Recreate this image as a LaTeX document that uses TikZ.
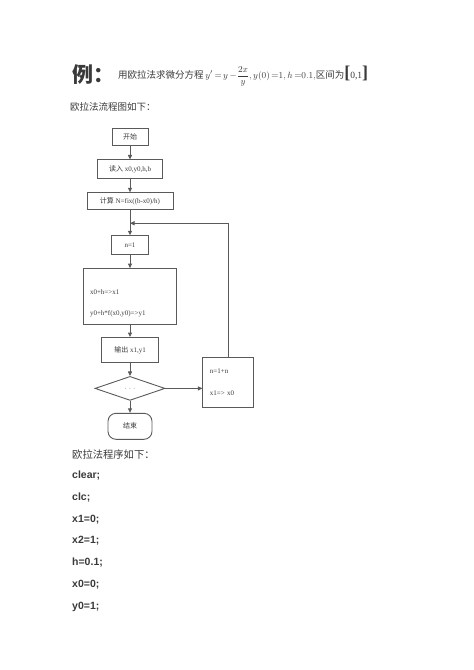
\documentclass[tikz,border=0pt]{standalone}
\usepackage{amsmath}
\usepackage{fontspec}
\setmainfont{Liberation Serif}
\newfontfamily\cjk{Noto Sans CJK SC}
\newfontfamily\codefont{Liberation Sans}
\usetikzlibrary{positioning, arrows.meta, shapes.geometric}
\definecolor{linegray}{HTML}{5A5A5A}
\definecolor{textgray}{HTML}{3A3A3A}

\begin{document}
\begin{tikzpicture}[
    x=1pt, y=-1pt,
    node distance=13pt,
    box/.style={rectangle, draw=linegray, line width=0.9pt, align=center,
                inner sep=0pt, text=textgray, font=\fontsize{7}{8}\selectfont},
    cond/.style={diamond, draw=linegray, line width=0.9pt, inner sep=0pt,
                 aspect=2.9, text=textgray, font=\fontsize{7}{8}\selectfont},
    term/.style={box, rounded corners=8pt},
    arr/.style={-{Triangle[length=4.5pt,width=4pt]}, line width=0.9pt, draw=linegray},
    page/.style={anchor=west, inner sep=0pt, text=textgray}
]
\useasboundingbox (0,0) rectangle (474,670);

% heading and problem
\node[page, font=\fontsize{21}{21}\selectfont\cjk\bfseries] (ex) at (72,75) {例：};
\node[page, font=\fontsize{9.5}{10}\selectfont] (task) at (118,76)
    {{\cjk 用欧拉法求微分方程}\,$y'\,{=}\,y\,{-}\dfrac{2x}{y},y(0)\,{=}1,h\,{=}0.1,${\cjk 区间为}{\fontsize{18}{18}\selectfont\bfseries[}0,1{\fontsize{18}{18}\selectfont\bfseries]}};
\node[page, font=\fontsize{9.5}{10}\selectfont\cjk] (chart) at (70,107) {欧拉法流程图如下：};

% flow chart
\node[box, minimum width=36pt, minimum height=17pt] (start) at (130,136.5) {\cjk 开始};
\node[box, minimum width=65pt, minimum height=19pt, below=14pt of start] (read) {{\cjk 读入} x0,y0,h,b};
\node[box, minimum width=86pt, minimum height=17pt, below=of read] (calc) {{\cjk 计算} N=fix((b-x0)/h)};
\node[box, minimum width=37pt, minimum height=19pt, below=25pt of calc] (init) {n=1};
\node[box, minimum width=93pt, minimum height=56pt, below=of init, align=left, text width=80pt] (step)
    {\mbox{}\\[10pt]x0+h=>x1\\[13pt]y0+h*f(x0,y0)=>y1};
\node[box, minimum width=57pt, minimum height=25pt, below=12pt of step] (out) {{\cjk 输出} x1,y1};
\node[cond, minimum width=70pt, minimum height=24pt, below=of out] (dec) {$\cdot\cdot\cdot$};
\node[term, minimum width=44pt, minimum height=26pt, below=12pt of dec] (stop) {\cjk 结束};
\node[box, minimum width=51pt, minimum height=50pt, right=37pt of dec, yshift=6pt,
      align=left, text width=37pt] (next) {n=1+n\\[14pt]x1=> x0};

\draw[arr] (start) -- (read);
\draw[arr] (read) -- (calc);
\draw[arr] (calc) -- (init);
\draw[arr] (init) -- (step);
\draw[arr] (step) -- (out);
\draw[arr] (out) -- (dec);
\draw[arr] (dec) -- (stop);
\draw[arr] (dec.east) -- (dec.east -| next.west);
\draw[arr] (next.north) |- ([yshift=12pt]init.north);

% program listing
\node[page, font=\fontsize{10.3}{11}\selectfont\cjk] (prog) at (72,455) {欧拉法程序如下：};
\node[page, anchor=north west, align=left, font=\fontsize{10.5}{21.7}\selectfont\codefont\bfseries] (code) at (72,471)
    {clear;\\clc;\\x1=0;\\x2=1;\\h=0.1;\\x0=0;\\y0=1;};
\end{tikzpicture}
\end{document}
